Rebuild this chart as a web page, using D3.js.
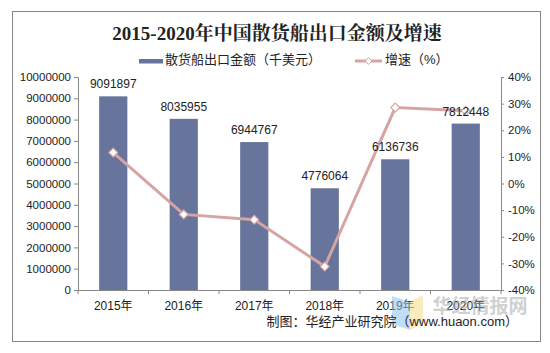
<!DOCTYPE html>
<html>
<head>
<meta charset="utf-8">
<script src="https://cdn.jsdelivr.net/npm/d3@7"></script>
<style>
  body { margin: 0; background: #fff; }
  text { font-family: "Liberation Sans", Arial, "Noto Sans CJK SC", sans-serif; }
</style>
</head>
<body>
<div id="graph"></div>
<script>
var years = ['2015年', '2016年', '2017年', '2018年', '2019年', '2020年']
var exportValue = [9091897, 8035955, 6944767, 4776064, 6136736, 7812448]
var growth = [11.6, -11.6, -13.6, -31.2, 28.5, 27.3]
var leftTicks = d3.range(0, 10000001, 1000000)
var rightTicks = d3.range(-40, 41, 10)

var W = 550, H = 353
var svg = d3.select('#graph').append('svg').attr('width', W).attr('height', H)

var plotL = 78, plotR = 501, plotT = 77, plotB = 290

var x = d3.scaleBand().domain(years).range([plotL, plotR]).paddingInner(0).paddingOuter(0)
var y = d3.scaleLinear().domain([0, 10000000]).range([plotB, plotT])
var y2 = d3.scaleLinear().domain([-40, 40]).range([plotB, plotT])

// frame
svg.append('rect')
  .attr('x', 12.5).attr('y', 11.5).attr('width', 528).attr('height', 330)
  .attr('fill', 'none').attr('stroke', '#888')

svg.append('text')
  .attr('x', 277).attr('y', 40)
  .attr('text-anchor', 'middle')
  .style('font-family', '"Liberation Serif", "Noto Serif CJK SC", "Noto Sans CJK SC", serif')
  .style('font-weight', 'bold').style('font-size', '19px').attr('fill', '#222')
  .text('2015-2020年中国散货船出口金额及增速')

// legend
var leg = svg.append('g').style('font-size', '13px')
leg.append('rect').attr('x', 139).attr('y', 59).attr('width', 24).attr('height', 4.5).attr('fill', '#67749b')
leg.append('text').attr('x', 165).attr('y', 64).attr('fill', '#222').text('散货船出口金额（千美元）')
leg.append('line').attr('x1', 355).attr('x2', 382).attr('y1', 61).attr('y2', 61)
  .attr('stroke', '#d7a4a4').attr('stroke-width', 3)
leg.append('path').attr('d', d3.symbol(d3.symbolDiamond2, 30)())
  .attr('transform', 'translate(368.5,61)').attr('fill', '#fff').attr('stroke', '#d7a4a4')
leg.append('text').attr('x', 385).attr('y', 64).attr('fill', '#222').text('增速（%）')

// axes
var yAxis = svg.append('g').attr('transform', 'translate(' + plotL + ',0)')
  .call(d3.axisLeft(y).tickValues(leftTicks).tickSize(4).tickFormat(d3.format('d')))
var y2Axis = svg.append('g').attr('transform', 'translate(' + plotR + ',0)')
  .call(d3.axisRight(y2).tickValues(rightTicks).tickSize(3).tickFormat(d => d + '%'))
var xAxis = svg.append('g').attr('transform', 'translate(0,' + plotB + ')')
  .call(d3.axisBottom(x).tickSize(0))

;[yAxis, y2Axis, xAxis].forEach(a => {
  a.selectAll('path, line').attr('stroke', '#888')
  a.selectAll('text').attr('fill', '#222').style('font-size', '11.5px')
})
y2Axis.selectAll('text').attr('x', 7)
xAxis.selectAll('text').attr('dy', '1.45em').style('font-size', '12px')

// category boundary ticks on x axis
xAxis.selectAll('line.cat')
  .data(years.map(d => x(d)).concat([plotR]))
  .join('line').attr('class', 'cat')
  .attr('x1', d => d).attr('x2', d => d).attr('y1', 0).attr('y2', 4)
  .attr('stroke', '#888')

// bars
var bw = x.bandwidth() * 0.4
svg.append('g').selectAll('rect')
  .data(exportValue)
  .join('rect')
  .attr('x', (d, i) => x(years[i]) + x.bandwidth() / 2 - bw / 2)
  .attr('width', bw)
  .attr('y', d => y(d))
  .attr('height', d => plotB - y(d))
  .attr('fill', '#67749b')

// growth line
var line = d3.line()
  .x((d, i) => x(years[i]) + x.bandwidth() / 2)
  .y(d => y2(d))

svg.append('path')
  .datum(growth)
  .attr('d', line)
  .attr('fill', 'none')
  .attr('stroke', '#d7a4a4')
  .attr('stroke-width', 3)

svg.append('g').selectAll('path')
  .data(growth)
  .join('path')
  .attr('d', d3.symbol(d3.symbolDiamond2, 50)())
  .attr('transform', (d, i) => 'translate(' + (x(years[i]) + x.bandwidth() / 2) + ',' + y2(d) + ')')
  .attr('fill', '#fff')
  .attr('stroke', '#d7a4a4')
  .attr('stroke-width', 1.2)

// bar labels (drawn over the line)
svg.append('g').selectAll('text')
  .data(exportValue)
  .join('text')
  .attr('x', (d, i) => x(years[i]) + x.bandwidth() / 2)
  .attr('y', d => y(d) - 8)
  .attr('text-anchor', 'middle')
  .style('font-size', '12px').attr('fill', '#222')
  .text(d => d)

// watermark
var wm = svg.append('g').attr('opacity', 0.55)
wm.append('path').attr('d', 'M392,296 L410,302 L410,330 L392,324 Z').attr('fill', '#8fc3f2')
wm.append('path').attr('d', 'M410,302 L423,295 L423,323 L410,330 Z').attr('fill', '#f6dc8a')
wm.append('text').attr('x', 480).attr('y', 313).attr('text-anchor', 'middle')
  .style('font-size', '19px').style('font-weight', 'bold').attr('fill', '#aaa')
  .text('华经情报网')

// source
svg.append('text')
  .attr('x', 518).attr('y', 326)
  .attr('text-anchor', 'end')
  .style('font-size', '13px').attr('fill', '#222')
  .text('制图：华经产业研究院（www.huaon.com）')
</script>
</body>
</html>
